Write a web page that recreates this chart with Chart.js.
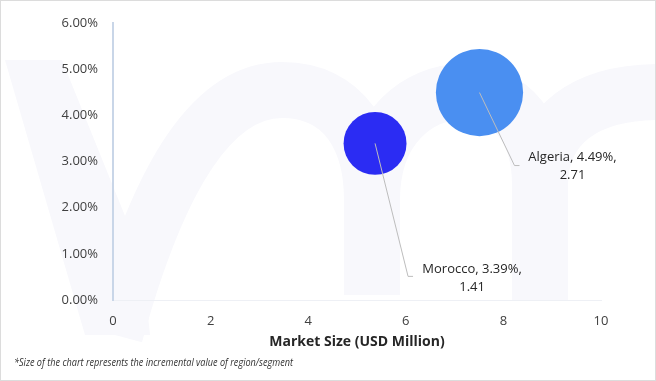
<!DOCTYPE html>
<html><head><meta charset="utf-8">
<script src="https://cdn.jsdelivr.net/npm/chart.js@4"></script>
<style>html,body{margin:0;padding:0;background:#fff}#wrap{width:656px;height:381px;position:relative}canvas{display:block}</style>
</head><body><div id="wrap"><canvas id="c" width="656" height="381"></canvas></div>
<script>
const regions = ['Morocco', 'Algeria'];
const marketSize = [5.37, 7.51];
const cagr = [3.39, 4.49];
const incremental = [1.41, 2.71];
const yTicks = [0, 1, 2, 3, 4, 5, 6];
const xTicks = [0, 2, 4, 6, 8, 10];
const xTitle = 'Market Size (USD Million)';
const footnote = '*Size of the chart represents the incremental value of region/segment';

const colors = ['#2b2cf3', '#4a8ff1'];
// label callout offsets (px) relative to bubble centre
const callouts = [
  {lx: 97, ly: 126, ex: 33, ey: 133, hx: 38},
  {lx: 93, ly: 65, ex: 35, ey: 73, hx: 40}
];
const FONT = '"Open Sans", "Segoe UI", sans-serif';

// keep the plot area fixed: do not pad the layout for bubble radii
Chart.registry.getController('bubble').prototype.getMaxOverflow = function () { return 0; };

const watermark = {
  id: 'watermark',
  beforeDraw(chart) {
    const ctx = chart.ctx;
    ctx.save();
    ctx.fillStyle = '#f8f8fc';
    ctx.strokeStyle = '#f8f8fc';
    ctx.beginPath();
    ctx.moveTo(5, 60); ctx.lineTo(62, 60); ctx.lineTo(142, 258); ctx.lineTo(150, 335); ctx.lineTo(85, 335);
    ctx.closePath();
    ctx.fill();
    ctx.lineWidth = 56;
    ctx.lineCap = 'butt';
    ctx.beginPath();
    ctx.moveTo(115, 335);
    ctx.bezierCurveTo(160, 170, 215, 90, 282, 90);
    ctx.bezierCurveTo(345, 90, 372, 140, 372, 200);
    ctx.lineTo(372, 295);
    ctx.stroke();
    ctx.beginPath();
    ctx.moveTo(372, 200);
    ctx.bezierCurveTo(372, 125, 420, 92, 462, 92);
    ctx.bezierCurveTo(512, 92, 540, 130, 540, 185);
    ctx.lineTo(540, 300);
    ctx.stroke();
    ctx.beginPath();
    ctx.moveTo(540, 185);
    ctx.bezierCurveTo(540, 125, 585, 92, 660, 92);
    ctx.stroke();
    ctx.restore();
  },
  afterDraw(chart) {
    const ctx = chart.ctx;
    ctx.save();
    ctx.strokeStyle = '#dcdcdc';
    ctx.lineWidth = 1;
    ctx.strokeRect(0.5, 0.5, 655, 380);
    ctx.fillStyle = '#333';
    ctx.font = 'italic 11.5px ' + FONT;
    ctx.textBaseline = 'middle';
    ctx.textAlign = 'left';
    ctx.fillText(footnote, 14, 363, 279);
    ctx.restore();
  }
};

const callout = {
  id: 'callout',
  afterDatasetsDraw(chart) {
    const ctx = chart.ctx;
    const meta = chart.getDatasetMeta(0);
    ctx.save();
    meta.data.forEach((el, i) => {
      const c = callouts[i];
      const x = el.x, y = el.y;
      ctx.strokeStyle = '#bdbdbd';
      ctx.lineWidth = 1;
      ctx.beginPath();
      ctx.moveTo(x, y);
      ctx.lineTo(x + c.ex, y + c.ey);
      ctx.lineTo(x + c.hx, y + c.ey);
      ctx.stroke();
      ctx.fillStyle = '#262626';
      ctx.font = '13px ' + FONT;
      ctx.textAlign = 'center';
      ctx.textBaseline = 'middle';
      ctx.fillText(regions[i] + ', ' + cagr[i].toFixed(2) + '%,', x + c.lx, y + c.ly);
      ctx.fillText(incremental[i].toFixed(2), x + c.lx, y + c.ly + 18);
    });
    ctx.restore();
  }
};

new Chart(document.getElementById('c'), {
  type: 'bubble',
  data: {
    datasets: [{
      label: 'Regions',
      data: regions.map((r, i) => ({x: marketSize[i], y: cagr[i], r: 26.5 * Math.sqrt(incremental[i])})),
      backgroundColor: colors,
      borderWidth: 0
    }]
  },
  options: {
    responsive: false,
    animation: false,
    devicePixelRatio: 1,
    layout: {padding: {top: 20, right: 55, left: 0, bottom: 0}},
    plugins: {legend: {display: false}, tooltip: {enabled: false}},
    scales: {
      x: {
        type: 'linear', min: 0, max: 10,
        afterBuildTicks: s => { s.ticks = xTicks.map(v => ({value: v})); },
        afterFit: s => { s.height = 81; },
        grid: {display: false, drawTicks: false},
        border: {display: true, color: '#eef0f5', width: 1},
        ticks: {color: '#404040', font: {family: FONT, size: 13}, padding: 13},
        title: {display: true, text: xTitle, color: '#262626', font: {family: FONT, size: 14, weight: 'bold'}, padding: {top: 4, bottom: 31}}
      },
      y: {
        type: 'linear', min: 0, max: 6,
        afterBuildTicks: s => { s.ticks = yTicks.map(v => ({value: v})); },
        afterFit: s => { s.width = 113; },
        grid: {display: false, drawTicks: false},
        border: {display: true, color: '#c9d6e8', width: 2},
        ticks: {color: '#404040', font: {family: FONT, size: 13}, padding: 15, callback: v => v.toFixed(2) + '%'}
      }
    }
  },
  plugins: [watermark, callout]
});
</script>
</body></html>
